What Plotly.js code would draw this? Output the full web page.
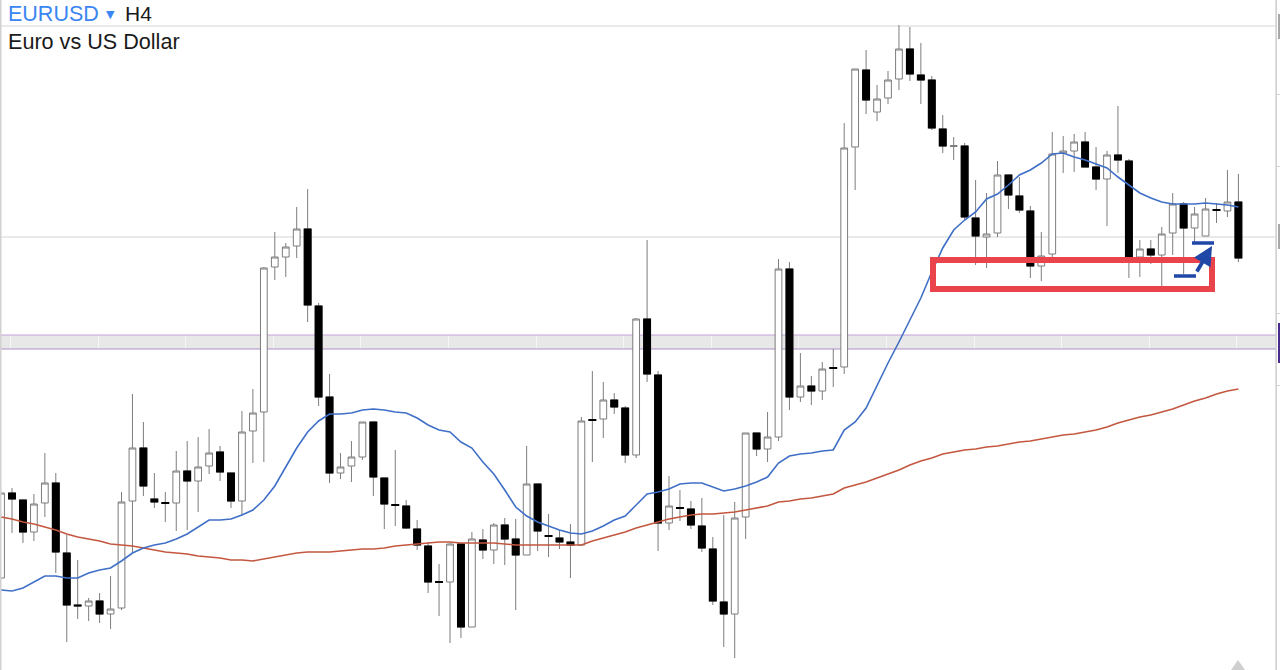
<!DOCTYPE html>
<html>
<head>
<meta charset="utf-8">
<script src="https://cdn.plot.ly/plotly-3.0.1.min.js"></script>
<style>html,body{margin:0;padding:0;background:#fff}#chart{width:1280px;height:670px}</style>
</head>
<body>
<div id="chart"></div>
<script>
const open = [92,177,170,138,167,187,117,65,64,69,56,62,169,222,171,167.5,167,199,189,204,218,197,169,239,258,403,413,424,441,364,273,197,204,213,248,192,165.5,164,141,124,88.5,88,126,43,130,120,145,131,115,186,134.5,132,128,125,250.5,251,270,262,215,351,295,147,162.5,161,144,121,68,56,153,237,221,233,401,273,284,279,302.5,303,523,600,558,572,591,621,595,590,541,523.5,524,452,433,437,495,474,459,404,416,517,519,528,503,491,515,509,413,421,415,437,466,442,434,460.5,459,468];
const close = [177,171,138,166,187,118,65,64,69,56,61,168,222,184,168,166.5,199,189,203,217,198,169,238,257,402,413,423,441,365,273,197,203,213,248,193,166,164.5,142,125,88,87.5,126,43,131,120,145,131,115,186,139,133.5,128,125,249,249.5,270,263,215,351,296,147,164,161.5,145,122,69,56,152,237,221,233,401,273,284,279,301,301.5,522,601,570,571,590,621,596,590,542,524,524.5,453,434,436,495,475,460,404,414,516,519,528,503,491,515,510,412,421,415,436,466,442,456,461,459.5,468,412];
const high = [177,182,170,176,217,197,135,110,72,77,94,178,276,248,197,178,219,229,233,241,224,197,259,281,403,438,427,463,481,367,296,217,229,248,248,192,220,170,150,128,106,127,127,138,141,147,152,151,224,186,156,140,146,253,299,288,277,264,352,430,299,194,180,169,172,133,155,168,237,237,258,411,408,317,294,308,321,547,601,620,585,599,645,643,627,594,555,533,527,490,477,509,495,493,464,438,538,534,536,538,523,519,564,511,430,430,443,477,468,463,472,467,500,496];
const low = [92,137,127,129,153,97,28,51,49,47,41,60,117,174,162,148,139,140,158,196,189,162,155,207,208,390,393,412,348,264,187,191,188,210,174,141,144,141,120,77,54,27,32,43,111,106,105,60,115,119,113,121,92,124,208,232,256,207,212,288,119,140,149,141,118,65,23,12,131,214,208,229,260,268,265,270,283,296,480,556,549,566,580,589,566,540,517,510,450,405,402,433,461,457,392,389,413,497,498,503,480,444,497,392,393,406,384,415,396,428,434,447,453,408];
const maBlue = [80,79,82,88,94,94,92,92,97,100,102,109,117,122,125,127,131,136,143,150,150,151,155,160,170,184,203,222,238,249,256,256,257,260,261,260,258,257,252,245,240,238,228,222,208,196,180,163,154,148,144,140,137,136,139,144,150,154,165,176,178,181,186,187,187,183,179,181,184,188,193,207,214,216,217,219,220,240,248,262,285,307,328,350,372,398,422,440,450,458,471,476,485,495,500,507,516,517,513,510,506,502,493,485,477,472,468,466,466,466,467,466,465,463];
const maRed = [153,151,148,146,143,140,136,133,131,129,126,125,124,122,120,118,117,116,114,113,112,110,110,109,111,113,115,117,118,118,118,119,120,121,121,122,124,125,126,127,128,128,127,127,127,127,126,125,125,125,125,125,125,125,129,132,135,138,142,145,148,151,153,155,156,156,157,158,160,162,164,168,169,171,172,174,176,182,185,188,192,196,200,205,209,212,216,218,220,221,223,224,226,228,229,231,233,235,236,238,240,243,247,250,253,255,258,261,265,269,272,276,279,281];

const symbolText = "EURUSD";
const periodText = "H4";
const nameText = "Euro vs US Dollar";

const bars = open.map((_, i) => i);
const downBars = bars.filter(i => close[i] < open[i]);
const downOpen = downBars.map(i => open[i]);
const downClose = downBars.map(i => close[i]);

const W = 1280, H = 670;
const xOf = px => (px - 1.05) / 10.95;
const levelOf = py => H - py;
const rectPx = (x0, x1, y0, y1, color) => ({type:'rect', xref:'paper', yref:'paper', x0:x0/W, x1:x1/W, y0:1-y0/H, y1:1-y1/H, fillcolor:color, line:{width:0}, layer:'above'});
const hline = (py, color, layer) => ({type:'line', xref:'x', yref:'y', x0:xOf(0), x1:xOf(1276), y0:levelOf(py), y1:levelOf(py), line:{color:color, width:1}, layer:layer});

const traces = [
  {type:'candlestick', x:bars, open:open, high:high, low:low, close:close,
   increasing:{line:{color:'#7d7d7d', width:1}, fillcolor:'#ffffff'},
   decreasing:{line:{color:'#7d7d7d', width:1}, fillcolor:'#000000'},
   whiskerwidth:0, hoverinfo:'skip', showlegend:false},
  {type:'candlestick', x:downBars, open:downOpen, close:downClose, high:downOpen, low:downClose,
   increasing:{line:{color:'#000000', width:1}, fillcolor:'#000000'},
   decreasing:{line:{color:'#000000', width:1.2}, fillcolor:'#000000'},
   whiskerwidth:0, hoverinfo:'skip', showlegend:false},
  {type:'scatter', mode:'lines', x:bars, y:maRed, line:{color:'#c4573f', width:1.6}, hoverinfo:'skip', showlegend:false},
  {type:'scatter', mode:'lines', x:bars, y:maBlue, line:{color:'#3f6fc6', width:1.6}, hoverinfo:'skip', showlegend:false}
];

const layout = {
  width:W, height:H, autosize:false,
  margin:{l:0,r:0,t:0,b:0,pad:0},
  paper_bgcolor:'#ffffff', plot_bgcolor:'#ffffff',
  boxmode:'overlay', boxgap:0.12,
  showlegend:false,
  xaxis:{range:[xOf(0), xOf(W)], showgrid:true, gridcolor:'#ffffff', gridwidth:0.6, tick0:0.87, dtick:8, tickmode:'linear',
         zeroline:false, showline:false, showticklabels:false, ticks:'', rangeslider:{visible:false}},
  yaxis:{range:[0,H], showgrid:false, zeroline:false, showline:false, showticklabels:false, ticks:''},
  shapes:[
    {type:'rect', xref:'x', yref:'y', x0:xOf(0), x1:xOf(1276), y0:levelOf(349), y1:levelOf(335), fillcolor:'#e8e8e8', line:{width:0}, layer:'below'},
    hline(335, '#c2a2d8', 'between'),
    hline(349, '#ae8fca', 'between'),
    hline(26, '#d4d4d4', 'between'),
    hline(237, '#d4d4d4', 'between'),
    rectPx(0, 1.5, 0, H, '#d2d2d2'),
    rectPx(1275.3, 1277, 0, H, '#d2d2d2'),
    rectPx(1278, 1280, 14, 39, '#a8a8a8'),
    rectPx(1278, 1280, 224, 249, '#a8a8a8'),
    rectPx(1278, 1280, 323, 363, '#4a2c8c'),
    rectPx(1277, 1280, 94, 95, '#d2d2d2'),
    rectPx(1277, 1280, 166, 167, '#d2d2d2'),
    rectPx(1277, 1280, 313, 314, '#d2d2d2'),
    rectPx(1277, 1280, 385, 386, '#d2d2d2'),
    {type:'rect', xref:'x', yref:'y', x0:xOf(933), x1:xOf(1212), y0:levelOf(289), y1:levelOf(260), line:{color:'#e9434b', width:6}, fillcolor:'rgba(0,0,0,0)', layer:'above'},
    {type:'line', xref:'x', yref:'y', x0:xOf(1174), x1:xOf(1196), y0:levelOf(276), y1:levelOf(276), line:{color:'#1f47a8', width:3.5}, layer:'above'},
    {type:'line', xref:'x', yref:'y', x0:xOf(1192), x1:xOf(1214), y0:levelOf(243), y1:levelOf(243), line:{color:'#1f47a8', width:3.5}, layer:'above'},
    {type:'path', xref:'x', yref:'y', path:`M ${xOf(1238)} ${levelOf(660)} L ${xOf(1231)} 0 L ${xOf(1245)} 0 Z`, fillcolor:'#cfcfcf', line:{width:0}, layer:'above'}
  ],
  annotations:[
    {xref:'paper', yref:'paper', x:6/W, y:1-14/H, xanchor:'left', yanchor:'middle', showarrow:false, text:symbolText, font:{family:'Liberation Sans, Arial, sans-serif', size:21.5, color:'#3a86f2'}},
    {xref:'paper', yref:'paper', x:104/W, y:1-15/H, xanchor:'left', yanchor:'middle', showarrow:false, text:'▼', font:{family:'DejaVu Sans, sans-serif', size:11, color:'#3a86f2'}},
    {xref:'paper', yref:'paper', x:123/W, y:1-14/H, xanchor:'left', yanchor:'middle', showarrow:false, text:periodText, font:{family:'Liberation Sans, Arial, sans-serif', size:21, color:'#1a1a1a'}},
    {xref:'paper', yref:'paper', x:6/W, y:1-41/H, xanchor:'left', yanchor:'middle', showarrow:false, text:nameText, font:{family:'Liberation Sans, Arial, sans-serif', size:21.6, color:'#1a1a1a'}},
    {xref:'x', yref:'y', axref:'x', ayref:'y', x:xOf(1212), y:levelOf(246), ax:xOf(1196), ay:levelOf(273), text:'', showarrow:true, arrowhead:2, arrowsize:1, arrowwidth:3.8, arrowcolor:'#1f47a8'}
  ]
};

Plotly.newPlot('chart', traces, layout, {staticPlot:true, displayModeBar:false});
</script>
</body>
</html>
